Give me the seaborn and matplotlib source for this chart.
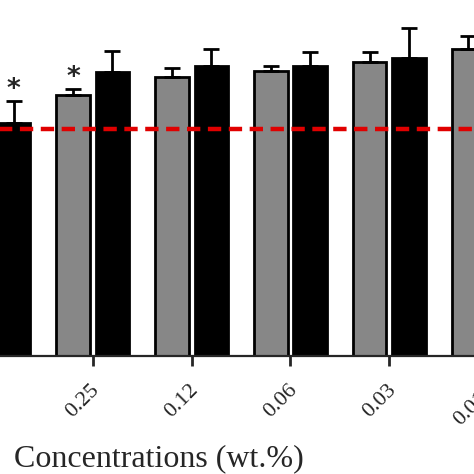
import numpy as np
import pandas as pd
import seaborn as sns
import matplotlib.pyplot as plt
from matplotlib.transforms import ScaledTranslation

# values (percent of control, control = 100)
concentrations = ["0.5", "0.25", "0.12", "0.06", "0.03", "0.015"]
gray_means = [98.0, 115.0, 123.0, 125.4, 129.5, 135.1]
gray_err = [5.0, 2.5, 4.0, 2.4, 4.3, 6.0]
black_means = [102.5, 125.0, 127.8, 127.9, 131.4, 130.0]
black_err = [9.8, 9.4, 7.2, 6.0, 13.2, 6.0]
series = ["A", "B"]
starred = [("B", "0.5"), ("A", "0.25")]
control = 100

df = pd.DataFrame({
    "conc": concentrations * 2,
    "value": gray_means + black_means,
    "err": gray_err + black_err,
    "series": [series[0]] * len(concentrations) + [series[1]] * len(concentrations),
})

sns.set_style("white")
plt.rcParams["font.family"] = ["Liberation Serif", "DejaVu Serif"]

fig = plt.figure(figsize=(4.74, 4.74), dpi=100)
# the view is a crop of a wider chart: axes run past both figure edges
ax = fig.add_axes([-50 / 474, 0.249, 580 / 474, 0.751])

sns.barplot(data=df, x="conc", y="value", hue="series", order=concentrations,
            hue_order=series, palette=["#878787", "#000000"], width=0.8, gap=0.15,
            edgecolor="black", linewidth=2, saturation=1, errorbar=None,
            legend=False, ax=ax)

# upper error bars + stars
for i, s in enumerate(series):
    sub = df[df.series == s].set_index("conc").loc[concentrations]
    xs = np.arange(len(concentrations)) + (-0.2 if i == 0 else 0.2)
    ax.errorbar(xs, sub["value"], yerr=[np.zeros(len(xs)), sub["err"]],
                fmt="none", ecolor="black", elinewidth=2, capsize=6, capthick=2,
                zorder=1)
    for c in concentrations:
        if (s, c) in starred:
            k = concentrations.index(c)
            top = sub.loc[c, "value"] + sub.loc[c, "err"]
            ax.text(xs[k], top + 5, "*", ha="center", va="center",
                    fontsize=19, fontweight="bold", family="DejaVu Sans")

ax.axhline(control, color="#e00000", linewidth=3.2, dashes=(3, 1.7), zorder=5)

ax.set_xlim(-0.443, 5.422)
ax.set_ylim(0, 156.8)
sns.despine(ax=ax, left=True, top=True, right=True)
ax.spines["bottom"].set_linewidth(1.6)
ax.set_yticks([])
ax.tick_params(axis="x", direction="out", length=7, width=2, bottom=True,
               labelsize=16, pad=8)
shift = ScaledTranslation(-3 / 100, -4 / 100, fig.dpi_scale_trans)
for lab in ax.get_xticklabels():
    lab.set_rotation(45)
    lab.set_ha("right")
    lab.set_rotation_mode("anchor")
    lab.set_transform(lab.get_transform() + shift)
ax.set_xlabel("")
ax.set_ylabel("")

fig.text(14 / 474, 8 / 474, "Concentrations (wt.%)", fontsize=23,
         ha="left", va="baseline")

fig.savefig("out.png", dpi=100)
